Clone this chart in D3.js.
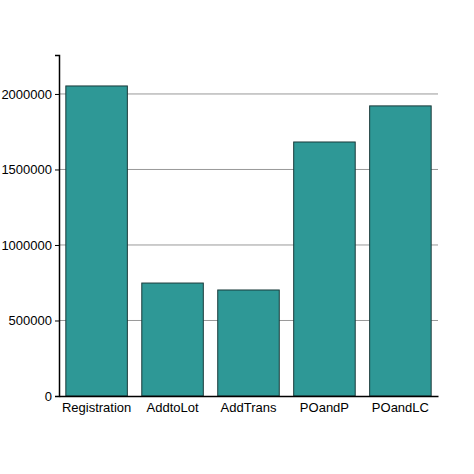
<!DOCTYPE html><html><head><script src="https://cdn.jsdelivr.net/npm/d3@7"></script>
<style>body{margin:0;background:#fff}</style></head><body><svg id="c" width="474" height="474"></svg>
<script>
const categories=["Registration","AddtoLot","AddTrans","POandP","POandLC"];
const values=[2053000,748000,702000,1682000,1921000];
const tickValues=[0,500000,1000000,1500000,2000000];
const svg=d3.select("#c");
const m={l:59,r:36,t:55,b:78};
const W=474-m.l-m.r,H=474-m.t-m.b;
const g=svg.append("g").attr("transform",`translate(${m.l},${m.t})`);
const x=d3.scaleBand().domain(categories).range([0,W]).paddingInner(0.19).paddingOuter(0.09);
const y=d3.scaleLinear().domain([0,2258000]).range([H,0]);
g.selectAll(".grid").data(tickValues.slice(1)).join("line").attr("x1",0).attr("x2",W)
 .attr("y1",d=>y(d)).attr("y2",d=>y(d)).attr("stroke","#999").attr("stroke-width",1);
g.selectAll(".bar").data(values).join("rect").attr("x",(d,i)=>x(categories[i])).attr("width",x.bandwidth())
 .attr("y",d=>y(d)).attr("height",d=>H-y(d)).attr("fill","#2e9896").attr("stroke","#1a3a3a").attr("stroke-width",1);
const ya=g.append("g").call(d3.axisLeft(y).tickValues(tickValues).tickFormat(d3.format("d")).tickSize(4));
const xa=g.append("g").attr("transform",`translate(0,${H})`).call(d3.axisBottom(x).tickSize(0).tickPadding(7));
[ya,xa].forEach(a=>{a.selectAll("text").attr("font-family","Liberation Sans, Arial").attr("font-size",13).attr("fill","#000");
 a.select(".domain").attr("stroke","#000").attr("stroke-width",1.5);a.selectAll("line").attr("stroke","#000");});
</script></body></html>
